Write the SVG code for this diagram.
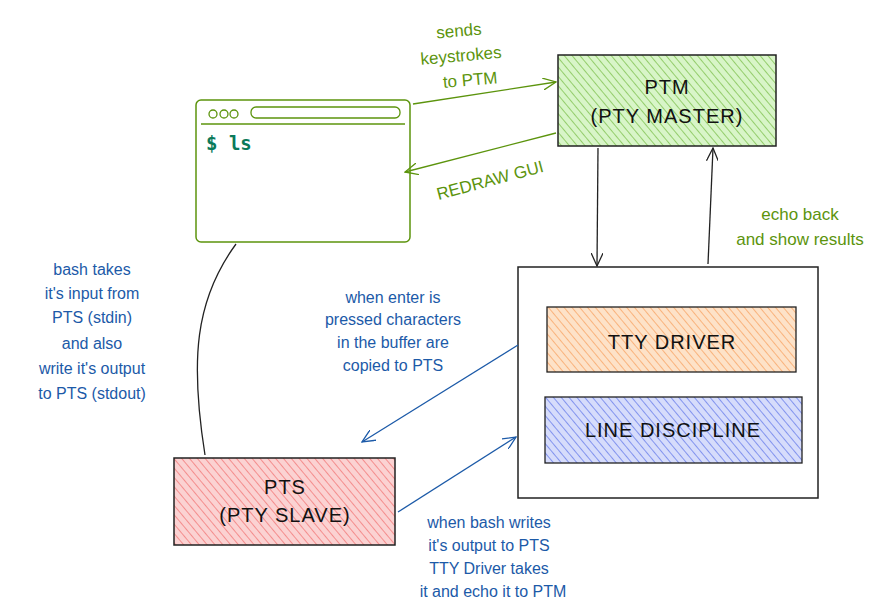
<svg xmlns="http://www.w3.org/2000/svg" width="894" height="615" viewBox="0 0 894 615">
<style>
.g{fill:#5c940d;font-family:"Liberation Sans",sans-serif;font-size:17px;text-anchor:middle}
.b{fill:#1c5aa8;font-family:"Liberation Sans",sans-serif;font-size:16px;text-anchor:middle}
.k{fill:#111;font-family:"Liberation Sans",sans-serif;font-size:20px;text-anchor:middle;letter-spacing:1px}
.ln{fill:none;stroke-width:1.3}
</style>
<defs>
<pattern id="hg" width="6" height="6" patternUnits="userSpaceOnUse" patternTransform="rotate(-40)"><rect width="6" height="6" fill="#d8f5c8"/><line x1="0" y1="0" x2="0" y2="6" stroke="#66b32e" stroke-width="1.2"/></pattern>
<pattern id="ho" width="6" height="6" patternUnits="userSpaceOnUse" patternTransform="rotate(-40)"><rect width="6" height="6" fill="#fde2c8"/><line x1="0" y1="0" x2="0" y2="6" stroke="#f7934a" stroke-width="1.2"/></pattern>
<pattern id="hb" width="6" height="6" patternUnits="userSpaceOnUse" patternTransform="rotate(-40)"><rect width="6" height="6" fill="#d6dcfb"/><line x1="0" y1="0" x2="0" y2="6" stroke="#4a64e6" stroke-width="1.2"/></pattern>
<pattern id="hr" width="6" height="6" patternUnits="userSpaceOnUse" patternTransform="rotate(-40)"><rect width="6" height="6" fill="#fbd2d2"/><line x1="0" y1="0" x2="0" y2="6" stroke="#f06060" stroke-width="1.2"/></pattern>
<marker id="ag" markerWidth="14" markerHeight="12" refX="13" refY="6" orient="auto" markerUnits="userSpaceOnUse"><path d="M0,0 L13,6 L0,12" fill="none" stroke="#5c940d" stroke-width="1.3"/></marker>
<marker id="ak" markerWidth="14" markerHeight="12" refX="13" refY="6" orient="auto" markerUnits="userSpaceOnUse"><path d="M0,0 L13,6 L0,12" fill="none" stroke="#222" stroke-width="1.3"/></marker>
<marker id="ab" markerWidth="14" markerHeight="12" refX="13" refY="6" orient="auto" markerUnits="userSpaceOnUse"><path d="M0,0 L13,6 L0,12" fill="none" stroke="#1c5aa8" stroke-width="1.3"/></marker>
</defs>
<rect width="894" height="615" fill="#fff"/>
<g id="terminal">
<rect x="196" y="100" width="214" height="142" rx="5" fill="none" stroke="#5c940d" stroke-width="1.5"/>
<line x1="201" y1="124" x2="405" y2="124" stroke="#5c940d" stroke-width="1.5"/>
<circle cx="213" cy="114" r="4" fill="none" stroke="#5c940d" stroke-width="1.3"/>
<circle cx="224" cy="114" r="4" fill="none" stroke="#5c940d" stroke-width="1.3"/>
<circle cx="234" cy="114" r="4" fill="none" stroke="#5c940d" stroke-width="1.3"/>
<rect x="251" y="107" width="149" height="11" rx="5" fill="none" stroke="#5c940d" stroke-width="1.3"/>
<text x="206" y="150" style="fill:#0b7a5a;font-family:'DejaVu Sans Mono',monospace;font-size:19px;font-weight:bold">$ ls</text>
</g>
<g id="ptm">
<rect x="558" y="55" width="218" height="91" fill="url(#hg)" stroke="#222" stroke-width="1.5"/>
<text class="k" x="667" y="94">PTM</text>
<text class="k" x="667" y="123">(PTY MASTER)</text>
</g>
<g id="kernel">
<rect x="518" y="267" width="300" height="231" fill="none" stroke="#222" stroke-width="1.5"/>
</g>
<g id="tty">
<rect x="547" y="307" width="249" height="65" fill="url(#ho)" stroke="#222" stroke-width="1.3"/>
<text class="k" x="672" y="349">TTY DRIVER</text>
</g>
<g id="ld">
<rect x="545" y="397" width="257" height="66" fill="url(#hb)" stroke="#222" stroke-width="1.3"/>
<text class="k" x="673" y="437">LINE DISCIPLINE</text>
</g>
<g id="pts">
<rect x="174" y="458" width="221" height="87" fill="url(#hr)" stroke="#222" stroke-width="1.5"/>
<text class="k" x="285" y="494">PTS</text>
<text class="k" x="285" y="522">(PTY SLAVE)</text>
</g>
<g id="connectors">
<path class="ln" d="M413,104 L556,82" stroke="#5c940d" marker-end="url(#ag)"/>
<path class="ln" d="M556,133 L405,172" stroke="#5c940d" marker-end="url(#ag)"/>
<path class="ln" d="M598,148 L597,266" stroke="#222" marker-end="url(#ak)"/>
<path class="ln" d="M708,264 L713,148" stroke="#222" marker-end="url(#ak)"/>
<path class="ln" d="M518,345 L362,442" stroke="#1c5aa8" marker-end="url(#ab)"/>
<path class="ln" d="M398,512 L516,437" stroke="#1c5aa8" marker-end="url(#ab)"/>
<path class="ln" d="M236,244 C195,300 190,360 205,455" stroke="#222"/>
</g>
<g id="labels">
<g transform="rotate(-5 465 55)">
<text class="g" x="461" y="36">sends</text>
<text class="g" x="461" y="61">keystrokes</text>
<text class="g" x="468" y="86">to PTM</text>
</g>
<text class="g" x="490" y="186" transform="rotate(-15 490 180)">REDRAW GUI</text>
<text class="g" x="800" y="220">echo back</text>
<text class="g" x="800" y="245">and show results</text>
<text class="b" x="92" y="275">bash takes</text>
<text class="b" x="92" y="299">it's input from</text>
<text class="b" x="92" y="323">PTS (stdin)</text>
<text class="b" x="92" y="349">and also</text>
<text class="b" x="92" y="374">write it's output</text>
<text class="b" x="92" y="399">to PTS (stdout)</text>
<text class="b" x="393" y="303">when enter is</text>
<text class="b" x="393" y="325">pressed characters</text>
<text class="b" x="393" y="348">in the buffer are</text>
<text class="b" x="393" y="371">copied to PTS</text>
<text class="b" x="489" y="528">when bash writes</text>
<text class="b" x="489" y="551">it's output to PTS</text>
<text class="b" x="489" y="574">TTY Driver takes</text>
<text class="b" x="493" y="597">it and echo it to PTM</text>
</g>
</svg>
